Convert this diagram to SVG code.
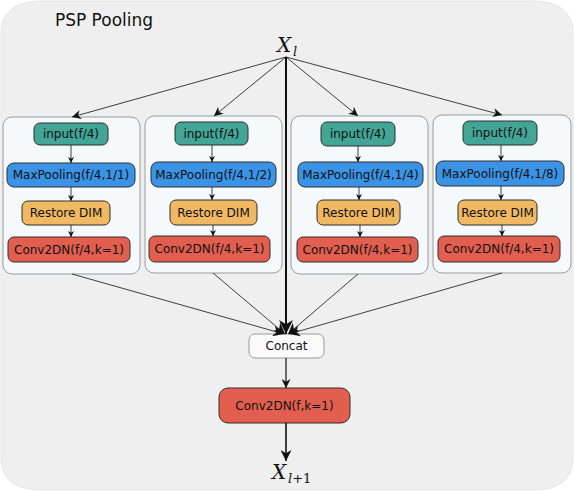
<svg xmlns="http://www.w3.org/2000/svg" width="574" height="492" viewBox="0 0 574 492">
<defs>
<marker id="ah" viewBox="0 0 10 10" refX="10" refY="5" markerWidth="9" markerHeight="9" markerUnits="userSpaceOnUse" orient="auto"><path d="M0,0 L10,5 L0,10 L3,5 Z" fill="#111"/></marker>
<marker id="as" viewBox="0 0 10 10" refX="10" refY="5" markerWidth="6" markerHeight="6" markerUnits="userSpaceOnUse" orient="auto"><path d="M0,0 L10,5 L0,10 L3,5 Z" fill="#111"/></marker>
<marker id="ab" viewBox="0 0 10 10" refX="10" refY="5" markerWidth="18" markerHeight="14" markerUnits="userSpaceOnUse" orient="auto"><path d="M0,0 L10,5 L0,10 L3,5 Z" fill="#111"/></marker>
<marker id="am" viewBox="0 0 10 10" refX="10" refY="5" markerWidth="14" markerHeight="11" markerUnits="userSpaceOnUse" orient="auto"><path d="M0,0 L10,5 L0,10 L3,5 Z" fill="#111"/></marker>
</defs>
<style>
text{font-family:"DejaVu Sans","Verdana",sans-serif;font-size:12px;fill:#111;text-anchor:middle;dominant-baseline:central}
.panel{fill:#f6f9fb;stroke:#9a9a9a;stroke-width:1}
.inp{fill:#43a596;stroke:#2f2f2f;stroke-width:1}
.mp{fill:#3a93e4;stroke:#2f2f2f;stroke-width:1}
.rd{fill:#f0b863;stroke:#2f2f2f;stroke-width:1}
.cv{fill:#e25e4f;stroke:#2f2f2f;stroke-width:1}
.con line{stroke:#111;stroke-width:0.8;fill:none}
.math{font-family:"DejaVu Serif","Liberation Serif",serif;font-style:italic;text-anchor:start;dominant-baseline:auto}
</style>
<path d="M42,1 H532 Q573,1 573,34 V458 Q573,490 532,490 H42 Q1,490 1,458 V34 Q1,1 42,1 Z" fill="#efefef" stroke="#e6e6e6"/>
<text x="104" y="20" style="font-size:17px">PSP Pooling</text>
<g id="xl"><text class="math" x="277" y="52" style="font-size:20px">X</text><text class="math" x="293" y="56" style="font-size:13px">l</text></g>

<g id="panel1">
<rect class="panel" x="3" y="117" width="137" height="157" rx="9"/>
<rect class="inp" x="34" y="123" width="74" height="22" rx="6"/><text x="71" y="134">input(f/4)</text>
<rect class="mp" x="7" y="163" width="128" height="24" rx="7"/><text x="71" y="175">MaxPooling(f/4,1/1)</text>
<rect class="rd" x="22" y="201" width="88" height="24" rx="6"/><text x="66" y="213">Restore DIM</text>
<rect class="cv" x="8" y="237" width="122" height="25" rx="6"/><text x="69" y="249.5">Conv2DN(f/4,k=1)</text>
</g>
<g id="panel2">
<rect class="panel" x="145" y="116" width="137" height="157" rx="9"/>
<rect class="inp" x="175" y="122" width="73" height="23" rx="6"/><text x="211.5" y="133.5">input(f/4)</text>
<rect class="mp" x="151" y="162" width="125" height="25" rx="7"/><text x="213.5" y="174.5">MaxPooling(f/4,1/2)</text>
<rect class="rd" x="170" y="200" width="87" height="25" rx="6"/><text x="213.5" y="212.5">Restore DIM</text>
<rect class="cv" x="149" y="236" width="121" height="26" rx="6"/><text x="209.5" y="249">Conv2DN(f/4,k=1)</text>
</g>
<g id="panel3">
<rect class="panel" x="291" y="116" width="137" height="158" rx="9"/>
<rect class="inp" x="321" y="122" width="74" height="24" rx="6"/><text x="358" y="134">input(f/4)</text>
<rect class="mp" x="298" y="162" width="125" height="25" rx="7"/><text x="360.5" y="174.5">MaxPooling(f/4,1/4)</text>
<rect class="rd" x="317" y="200" width="83" height="25" rx="6"/><text x="358.5" y="212.5">Restore DIM</text>
<rect class="cv" x="297" y="237" width="121" height="25" rx="6"/><text x="357.5" y="249.5">Conv2DN(f/4,k=1)</text>
</g>
<g id="panel4">
<rect class="panel" x="433" y="115" width="138" height="158" rx="9"/>
<rect class="inp" x="463" y="121" width="74" height="24" rx="6"/><text x="500" y="133">input(f/4)</text>
<rect class="mp" x="436" y="161" width="128" height="25" rx="7"/><text x="500" y="173.5">MaxPooling(f/4,1/8)</text>
<rect class="rd" x="458" y="200" width="79" height="25" rx="6"/><text x="497.5" y="212.5">Restore DIM</text>
<rect class="cv" x="438" y="236" width="122" height="26" rx="6"/><text x="499" y="249">Conv2DN(f/4,k=1)</text>
</g>
<g id="concat">
<rect x="249" y="334" width="75" height="24" rx="6" fill="#fafafa" stroke="#9a9a9a"/><text x="286.5" y="346">Concat</text>
</g>
<g id="conv-final">
<rect class="cv" x="219" y="388" width="131" height="35" rx="9"/><text x="284.5" y="405.5">Conv2DN(f,k=1)</text>
</g>
<g id="xl1"><text class="math" x="272" y="479" style="font-size:20px">X</text><text class="math" x="288" y="483" style="font-size:13px">l<tspan style="font-style:normal">+1</tspan></text></g>

<g class="con" id="connectors">
<line x1="286" y1="57" x2="72" y2="117" marker-end="url(#ah)"/>
<line x1="286" y1="57" x2="214" y2="116" marker-end="url(#ah)"/>
<line x1="286" y1="57" x2="358" y2="116" marker-end="url(#ah)"/>
<line x1="286" y1="57" x2="502" y2="115" marker-end="url(#ah)"/>
<line x1="286" y1="57" x2="286" y2="334" style="stroke-width:2" marker-end="url(#ab)"/>
<line x1="72" y1="274" x2="284" y2="334" marker-end="url(#am)"/>
<line x1="213" y1="273" x2="285" y2="334" marker-end="url(#am)"/>
<line x1="358" y1="274" x2="288" y2="334" marker-end="url(#am)"/>
<line x1="502" y1="273" x2="289" y2="334" marker-end="url(#am)"/>
<line x1="286" y1="358" x2="286" y2="388" style="stroke-width:1.2" marker-end="url(#ah)"/>
<line x1="286" y1="423" x2="286" y2="461" style="stroke-width:1.6" marker-end="url(#am)"/>
<line x1="71" y1="145" x2="71" y2="163" marker-end="url(#as)"/>
<line x1="71" y1="187" x2="71" y2="201" marker-end="url(#as)"/>
<line x1="71" y1="225" x2="71" y2="237" marker-end="url(#as)"/>
<line x1="212" y1="145" x2="212" y2="162" marker-end="url(#as)"/>
<line x1="212" y1="187" x2="212" y2="200" marker-end="url(#as)"/>
<line x1="213" y1="225" x2="213" y2="236" marker-end="url(#as)"/>
<line x1="358" y1="146" x2="358" y2="162" marker-end="url(#as)"/>
<line x1="359" y1="187" x2="359" y2="200" marker-end="url(#as)"/>
<line x1="360" y1="225" x2="360" y2="237" marker-end="url(#as)"/>
<line x1="501" y1="145" x2="501" y2="161" marker-end="url(#as)"/>
<line x1="501" y1="186" x2="501" y2="200" marker-end="url(#as)"/>
<line x1="502" y1="225" x2="502" y2="236" marker-end="url(#as)"/>
</g>
</svg>
